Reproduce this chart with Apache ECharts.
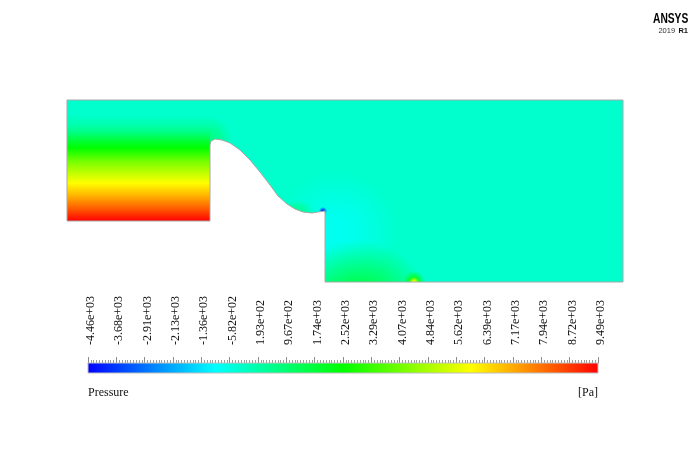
<!DOCTYPE html>
<html lang="en">
<head>
    <meta charset="UTF-8">
    <title>Pressure contour</title>
    <script type="text/javascript" src="https://cdn.jsdelivr.net/npm/echarts@6/dist/echarts.min.js"></script>
    <style>
        html, body { margin: 0; padding: 0; background: #fff; }
        #main { width: 700px; height: 456px; }
    </style>
</head>
<body>
<div id="main"></div>
<script type="text/javascript">
    // colour bar
    var tickLabels = ['-4.46e+03', '-3.68e+03', '-2.91e+03', '-2.13e+03', '-1.36e+03', '-5.82e+02', '1.93e+02',
        '9.67e+02', '1.74e+03', '2.52e+03', '3.29e+03', '4.07e+03', '4.84e+03', '5.62e+03', '6.39e+03',
        '7.17e+03', '7.94e+03', '8.72e+03', '9.49e+03'];
    var pressureMin = -4460;
    var pressureMax = 9490;
    var rainbow = ['#0000ff', '#00ffff', '#00ff00', '#ffff00', '#ff0000'];

    // domain outline (x along the channel, y up from the outlet floor)
    var weirX = [143, 144, 148, 155, 163, 173, 183, 193, 203, 211, 220, 228, 236, 245, 251, 258];
    var weirY = [137, 141, 143, 142, 139, 132, 122, 110, 97, 86, 78, 73, 70, 69, 70, 71];
    var domainLength = 556;
    var domainHeight = 182;
    var inletFloor = 61;

    // pressure up the inlet column
    var inletY = [182, 167, 157, 150, 142, 134, 120, 99, 87, 72, 61];
    var inletPressure = [-275, -275, 144, 700, 1680, 2515, 4190, 6000, 6980, 8370, 9490];

    // pressure over the rest of the flow
    var farFieldPressure = -275;
    var spotX = [143, 232, 270, 292, 347, 347, 256];
    var spotY = [143, 62, 50, -30, 0, 0, 71];
    var spotReach = [22, 20, 62, 72, 11, 5, 4];
    var spotPressure = [700, 2200, -800, 2000, 2500, 6000, -4000];

    function pressureColor(p, alpha) {
        var c = echarts.color.lerp((p - pressureMin) / (pressureMax - pressureMin), rainbow);
        return alpha === undefined ? c : echarts.color.modifyAlpha(c, alpha);
    }

    function zip(xs, ys) {
        return xs.map(function (x, i) { return [x, ys[i]]; });
    }

    var weirPoints = zip(weirX, weirY);
    var inletRect = [[0, inletFloor], [143, inletFloor], [143, domainHeight], [0, domainHeight]];
    var flowRegion = [[143, domainHeight]].concat(weirPoints,
        [[258, 0], [domainLength, 0], [domainLength, domainHeight]]);
    var outline = [[0, inletFloor], [143, inletFloor]].concat(weirPoints,
        [[258, 0], [domainLength, 0], [domainLength, domainHeight], [0, domainHeight], [0, inletFloor]]);

    function toPixels(api, points) {
        return points.map(function (p) { return api.coord(p); });
    }

    var inletStops = inletY.map(function (y, i) {
        return {
            offset: (domainHeight - y) / (domainHeight - inletFloor),
            color: pressureColor(inletPressure[i])
        };
    });

    var barStops = rainbow.map(function (c, i) {
        return { offset: i / (rainbow.length - 1), color: c };
    });

    var option = {
        backgroundColor: '#ffffff',
        animation: false,
        grid: [
            { left: 67, top: 100, width: 556, height: 182 },
            { left: 88, top: 363, width: 510, height: 10 }
        ],
        xAxis: [
            { gridIndex: 0, type: 'value', min: 0, max: domainLength, show: false },
            {
                gridIndex: 1, type: 'value', min: 0, max: 18, interval: 1, position: 'top',
                axisLine: { show: true, onZero: false, lineStyle: { color: '#9a9a9a', width: 1 } },
                axisTick: { show: true, length: 6, lineStyle: { color: '#8a8a8a', width: 1 } },
                minorTick: { show: true, splitNumber: 10, length: 3, lineStyle: { color: '#9a9a9a', width: 1 } },
                splitLine: { show: false },
                axisLabel: {
                    show: true, rotate: -90, margin: 18, color: '#111',
                    fontFamily: 'Liberation Serif', fontSize: 12, verticalAlign: 'top', lineHeight: 6,
                    showMinLabel: true, showMaxLabel: true, hideOverlap: false,
                    formatter: function (v) { return tickLabels[v]; }
                }
            }
        ],
        yAxis: [
            { gridIndex: 0, type: 'value', min: 0, max: domainHeight, show: false },
            { gridIndex: 1, type: 'value', min: 0, max: 1, show: false }
        ],
        graphic: [
            { type: 'text', left: 88, top: 387, style: { text: 'Pressure', fill: '#111', font: '12px "Liberation Serif"' } },
            { type: 'text', right: 102, top: 387, style: { text: '[Pa]', fill: '#111', font: '12px "Liberation Serif"' } },
            { type: 'text', x: 653, y: 12, scaleX: 0.73, style: { text: 'ANSYS', fill: '#000', font: 'bold 14px "Liberation Sans"' } },
            {
                type: 'text', right: 12, top: 25,
                style: {
                    rich: { y: { fill: '#333', font: '7.5px "Liberation Sans"' }, r: { fill: '#111', font: 'bold 7.5px "Liberation Sans"' } },
                    text: '{y|2019} {r|R1}'
                }
            }
        ],
        series: [
            {
                name: 'flow', type: 'custom', coordinateSystem: 'cartesian2d', silent: true, clip: false,
                data: [[0, 0]],
                renderItem: function (params, api) {
                    return {
                        type: 'polygon',
                        shape: { points: toPixels(api, flowRegion) },
                        style: { fill: pressureColor(farFieldPressure) }
                    };
                }
            },
            {
                name: 'inlet', type: 'custom', coordinateSystem: 'cartesian2d', silent: true, clip: false,
                data: [[0, 0]],
                renderItem: function (params, api) {
                    return {
                        type: 'polygon',
                        shape: { points: toPixels(api, inletRect) },
                        style: {
                            fill: { type: 'linear', x: 0, y: 0, x2: 0, y2: 1, colorStops: inletStops }
                        }
                    };
                }
            },
            {
                name: 'spots', type: 'custom', coordinateSystem: 'cartesian2d', silent: true, clip: false,
                data: spotX.map(function (x, i) { return [x, spotY[i], spotReach[i], spotPressure[i]]; }),
                renderItem: function (params, api) {
                    var c = api.coord([api.value(0), api.value(1)]);
                    var r = api.size([api.value(2), 0])[0];
                    var p = api.value(3);
                    return {
                        type: 'polygon',
                        shape: { points: toPixels(api, flowRegion) },
                        style: {
                            fill: {
                                type: 'radial', x: c[0], y: c[1], r: r, global: true,
                                colorStops: [
                                    { offset: 0, color: pressureColor(p, 1) },
                                    { offset: 0.35, color: pressureColor(p, 0.8) },
                                    { offset: 1, color: pressureColor(p, 0) }
                                ]
                            }
                        }
                    };
                }
            },
            {
                name: 'outline', type: 'line', silent: true, clip: false, symbol: 'none',
                data: outline,
                lineStyle: { color: '#a8a8a8', width: 1 }
            },
            {
                name: 'colour bar', type: 'custom', coordinateSystem: 'cartesian2d', silent: true,
                xAxisIndex: 1, yAxisIndex: 1, clip: false,
                data: [[0, 0]],
                renderItem: function (params, api) {
                    var a = api.coord([0, 1]);
                    var b = api.coord([18, 0]);
                    return {
                        type: 'rect',
                        shape: { x: a[0], y: a[1], width: b[0] - a[0], height: b[1] - a[1] },
                        style: {
                            fill: { type: 'linear', x: 0, y: 0, x2: 1, y2: 0, colorStops: barStops },
                            stroke: '#bdbdbd', lineWidth: 1
                        }
                    };
                }
            }
        ]
    };

    var myChart = echarts.init(document.getElementById('main'), null, { renderer: 'canvas' });
    myChart.setOption(option);
</script>
</body>
</html>
